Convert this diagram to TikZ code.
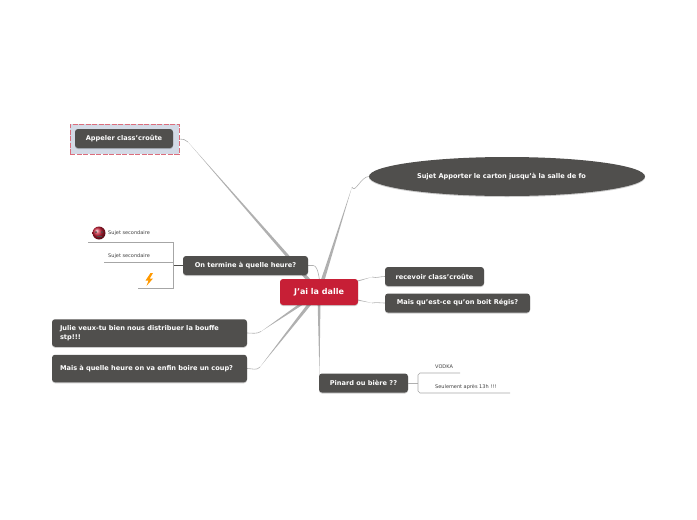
\documentclass[tikz,border=0pt]{standalone}
\usepackage{fontspec}
\setmainfont{DejaVu Sans}
\usepackage{tikz}
\usetikzlibrary{calc, shapes.geometric, backgrounds, shadows}

\definecolor{nodeGray}{HTML}{504F4D}
\definecolor{mainRed}{HTML}{C71F36}
\definecolor{linkGray}{HTML}{B0B0B0}
\definecolor{frameBlue}{HTML}{D3DAE6}

\newcommand{\taperlink}[3]{%
    \fill[linkGray] (#1) -- ($(#2)!#3!90:(#1)$) -- ($(#2)!#3!-90:(#1)$) -- cycle;
}

\begin{document}
\begin{tikzpicture}[x=1pt,y=-1pt]
            \tikzstyle{softShadow}=[drop shadow={shadow xshift=0pt,shadow yshift=-1pt,opacity=0.2,fill=black}]
            \tikzstyle{topicBox}=[rectangle, rounded corners=3pt, fill=nodeGray, text=white, softShadow, inner sep=0pt, font=\fontsize{6.6}{8.6}\selectfont\bfseries]
            \tikzstyle{wideBox}=[topicBox, align=left, text width=179pt, minimum width=195pt, minimum height=27.5pt]
            \tikzstyle{subText}=[inner sep=0pt, anchor=west, text=black!75, font=\fontsize{5}{6}\selectfont]
            \tikzstyle{thinLink}=[draw=linkGray, line width=0.6pt]
            \tikzstyle{treeLine}=[draw=black!35, line width=0.6pt]
            \useasboundingbox (0,0) rectangle (697,520);

            %%%%%%%%%%%%%%%%%%%%%%%%%%%%%%%%%%%%%%%%
            \node (frame) at (124.5,139) [rectangle, fill=frameBlue, draw=mainRed!65, dashed, dash pattern=on 5pt off 1.5pt, line width=0.9pt, minimum width=109pt, minimum height=30pt, inner sep=0pt] {};

            \node (main) at (319,292) [topicBox, fill=mainRed, minimum width=78pt, minimum height=26pt, font=\fontsize{8}{10}\selectfont\bfseries] {J'ai la dalle};
            \node (appeler) at (124,138.5) [topicBox, minimum width=98pt, minimum height=19pt] {Appeler class'croûte};
            \node (termine) at (245.5,265.5) [topicBox, minimum width=125pt, minimum height=19pt] {On termine à quelle heure?};
            \node (sujet) at (507,176.5) [ellipse, fill=nodeGray, text=white, softShadow, inner sep=0pt, minimum width=276pt, minimum height=39pt, text width=180pt, align=left, font=\fontsize{6.6}{8.6}\selectfont\bfseries] {Sujet Apporter le carton jusqu'à la salle de fo};
            \node (recevoir) at (434.5,276.5) [topicBox, minimum width=99pt, minimum height=19pt] {recevoir class'croûte};
            \node (regis) at (457.5,303) [topicBox, minimum width=145pt, minimum height=19pt] {Mais qu'est-ce qu'on boit Régis?};
            \node (julie) at (149.5,333) [wideBox] {Julie veux-tu bien nous distribuer la bouffe stp!!!};
            \node (boire) at (149.5,368.5) [wideBox] {Mais à quelle heure on va enfin boire un coup?};
            \node (pinard) at (363.5,383) [topicBox, minimum width=89pt, minimum height=19pt] {Pinard ou bière ??};

            %%%%%%%%%%%%%%%%%%%%%%%%%%%%%%%%%%%%%%%%
            \coordinate (bendAppeler) at (188,142);
            \coordinate (bendSujet) at (352,187);
            \coordinate (bendRecevoir) at (372,277);
            \coordinate (bendRegis) at (372,303);
            \coordinate (bendJulie) at (261,331.5);
            \coordinate (bendBoire) at (260,367);
            \coordinate (bendPinard) at (319.5,376);

            \begin{scope}[on background layer]
                \taperlink{bendAppeler}{main.center}{2pt}
                \taperlink{bendSujet}{main.center}{2pt}
                \taperlink{bendRecevoir}{main.center}{1.8pt}
                \taperlink{bendRegis}{main.center}{1.8pt}
                \taperlink{bendJulie}{main.center}{2pt}
                \taperlink{bendBoire}{main.center}{2pt}
                \taperlink{bendPinard}{main.center}{1.6pt}
                \draw[thinLink] (frame.east) ++(-6,0) -- ++(6,0) to[out=0,in=135] (bendAppeler);
                \draw[thinLink] (sujet.west) to[out=180,in=-70] (bendSujet);
                \draw[thinLink] (recevoir.west) to[out=180,in=-15] (bendRecevoir);
                \draw[thinLink] (regis.west) to[out=180,in=10] (bendRegis);
                \draw[thinLink] (julie.east) to[out=0,in=-150] (bendJulie);
                \draw[thinLink] (boire.east) to[out=0,in=-130] (bendBoire);
                \draw[thinLink] (termine.east) -- ++(5,0) to[out=0,in=-90] ($(main.north)+(0.5,0)$);
            \end{scope}

            %%%%%%%%%%%%%%%%%%%%%%%%%%%%%%%%%%%%%%%%
            \node (subOne) at (108,233.5) [subText] {Sujet secondaire};
            \node (subTwo) at (108,256) [subText] {Sujet secondaire};
            \coordinate (endOne) at (88,242);
            \coordinate (endTwo) at (104,262);
            \coordinate (endThree) at (138,288);
            \coordinate (forkLeft) at (173,265.5);
            \draw[line width=0.7pt, nodeGray] (termine.west) -- (forkLeft);
            \draw[treeLine] (endOne) -- (173,242) -- (173,288) -- (endThree);
            \draw[treeLine] (endTwo) -- (173,262);

            \node (smiley) at (99,233) [circle, inner sep=0pt, minimum size=13pt, ball color=mainRed] {};
            \fill[black!70] (96,232) circle (1pt) (102,232) circle (1pt);
            \draw[black!70, line width=0.5pt] (96.5,236.5) -- (101.5,236.5);
            \fill[orange!80!yellow] (150.5,273) -- (145.5,280.5) -- (148.5,280.5) -- (146.5,286) -- (153,278.5) -- (149.8,278.5) -- (153,273) -- cycle;

            %%%%%%%%%%%%%%%%%%%%%%%%%%%%%%%%%%%%%%%%
            \node (vodka) at (435,367) [subText] {VODKA};
            \node (seulement) at (435,387) [subText] {Seulement après 13h !!!};
            \coordinate (endVodka) at (460,373);
            \coordinate (endSeul) at (510,393);
            \coordinate (forkRight) at (418,383);
            \draw[line width=1pt, linkGray] (pinard.east) -- (forkRight);
            \draw[treeLine] (endVodka) -- (420,373) to[out=180,in=-90] (418,375) -- (418,391) to[out=90,in=180] (420,393) -- (endSeul);
\end{tikzpicture}
\end{document}
